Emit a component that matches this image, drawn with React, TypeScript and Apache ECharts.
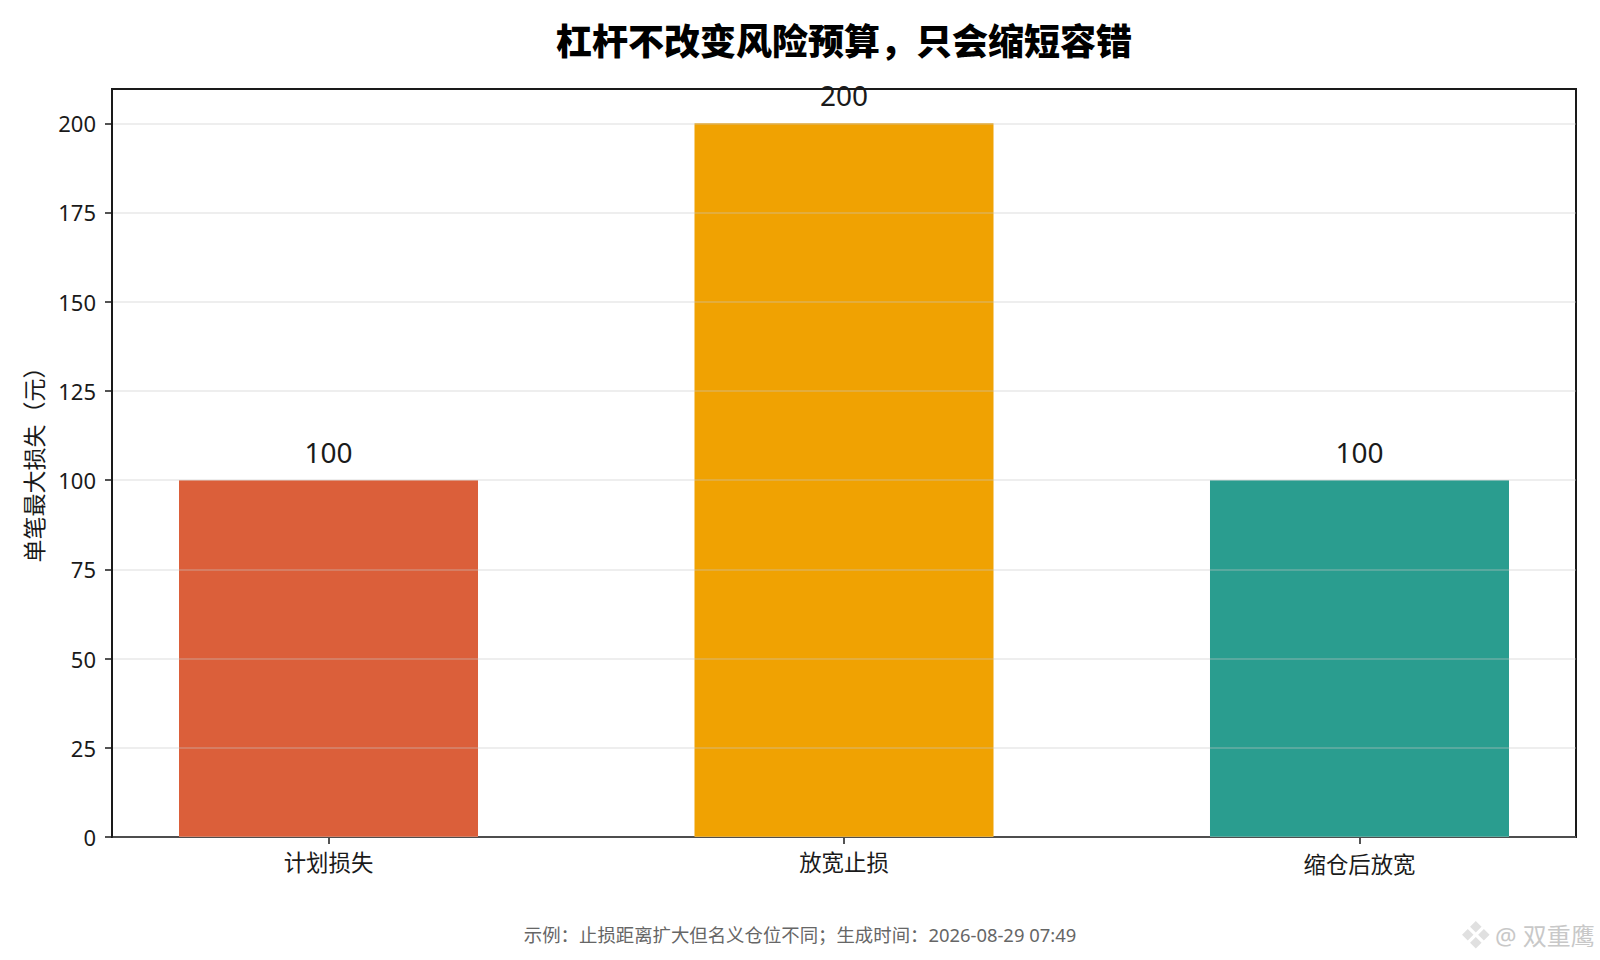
import React, { useEffect, useRef } from "react";
import * as echarts from "echarts";

const categories = ["计划损失", "放宽止损", "缩仓后放宽"];
const values = [100, 200, 100];
const colors = ["#DB5F3A", "#F0A202", "#2A9D8F"];
const yTicks = [0, 25, 50, 75, 100, 125, 150, 175, 200];
const xTicks = [0, 1, 2];
const titleText = "杠杆不改变风险预算\uFF0C只会缩短容错";
const yName = "单笔最大损失\uFF08元\uFF09";
const footerText = "示例\uFF1A止损距离扩大但名义仓位不同\uFF1B生成时间\uFF1A2026-08-29 07:49";
const watermarkText = "@ 双重鹰";
const FONT = '"Noto Sans", "Noto Sans CJK SC", sans-serif';
const INK = "#1a1a1a";

echarts.graphic.registerShape(
  "wmLogo",
  echarts.graphic.extendPath(
    "M12 0L17 5L12 10L7 5ZM5 7L10 12L5 17L0 12ZM19 7L24 12L19 17L14 12ZM12 14L17 19L12 24L7 19Z",
    {}
  )
);

export default function App() {
  const ref = useRef<HTMLDivElement>(null);
  useEffect(() => {
    const chart = echarts.init(ref.current!, null, { renderer: "svg" });
    chart.setOption({
      animation: false,
      backgroundColor: "#fff",
      title: {
        text: titleText,
        left: 839,
        top: 16,
        textAlign: "center",
        textStyle: { fontFamily: '"Noto Sans CJK SC", sans-serif', fontSize: 36, fontWeight: 900, color: "#000" },
      },
      grid: {
        left: 112,
        right: 24,
        top: 89,
        bottom: 123,
        show: true,
        borderColor: INK,
        borderWidth: 2,
        backgroundColor: "transparent",
      },
      xAxis: {
        type: "value",
        min: -0.42,
        max: 2.42,
        splitLine: { show: false },
        axisLine: { show: true, onZero: false, lineStyle: { color: INK, width: 2 } },
        axisTick: { show: true, length: 7, lineStyle: { color: INK, width: 1.5 }, customValues: xTicks },
        axisLabel: {
          customValues: xTicks,
          formatter: (v: number) => {
            const name = categories[Math.round(v)] ?? "";
            return Math.round(v) === 2 ? `{low|${name}}` : name;
          },
          rich: { low: { fontFamily: FONT, fontSize: 22.4, color: INK, padding: [2, 0, 0, 0] } },
          fontFamily: FONT,
          fontSize: 22.4,
          color: INK,
          margin: 14,
        },
      },
      yAxis: {
        type: "value",
        min: 0,
        max: 209.6,
        z: 3,
        name: yName,
        nameLocation: "middle",
        nameGap: 67,
        nameTextStyle: { fontFamily: FONT, fontSize: 23, color: INK, padding: [0, 0, 0, 8] },
        axisLine: { show: true, onZero: false, lineStyle: { color: INK, width: 2 } },
        axisTick: { show: true, length: 7, lineStyle: { color: INK, width: 1.5 }, customValues: yTicks },
        axisLabel: { customValues: yTicks, fontFamily: FONT, fontSize: 22, color: INK, margin: 16 },
        splitLine: { show: true, lineStyle: { color: "rgba(200,200,200,0.3)", width: 2 } },
      },
      series: [
        {
          type: "bar",
          barWidth: 299,
          data: values.map((v, i) => ({ value: [xTicks[i], v], itemStyle: { color: colors[i] } })),
          label: {
            show: true,
            position: "top",
            distance: 14,
            formatter: (p: any) => String(p.value[1]),
            fontFamily: FONT,
            fontSize: 28,
            color: INK,
          },
        },
      ],
      graphic: [
        {
          type: "text",
          x: 800,
          y: 934,
          style: {
            text: footerText,
            textAlign: "center",
            textVerticalAlign: "middle",
            font: `18.4px ${FONT}`,
            fill: "#666",
          },
        },
        {
          type: "wmLogo",
          x: 1462,
          y: 921,
          scaleX: 1.15,
          scaleY: 1.15,
          style: { fill: "#e0e0e0" },
        },
        {
          type: "text",
          x: 1495,
          y: 935,
          style: {
            text: watermarkText,
            textAlign: "left",
            textVerticalAlign: "middle",
            font: `24px ${FONT}`,
            fill: "#c8c8c8",
          },
        },
      ],
    });
    return () => chart.dispose();
  }, []);
  return <div ref={ref} style={{ width: 1600, height: 960, position: "absolute", left: 0, top: 0 }} />;
}
